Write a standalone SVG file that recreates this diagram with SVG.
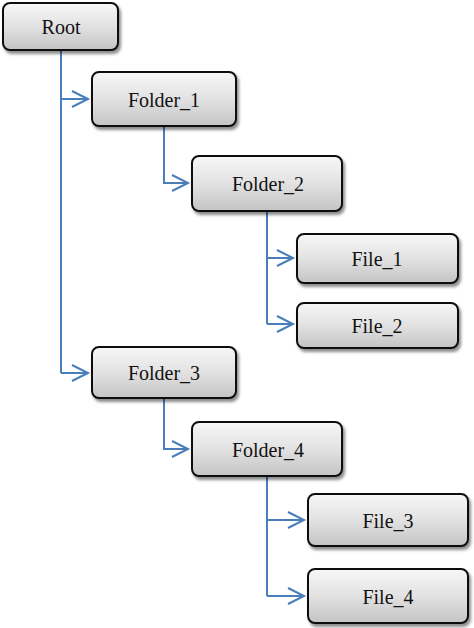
<svg xmlns="http://www.w3.org/2000/svg" width="474" height="628" viewBox="0 0 474 628">
<defs>
<linearGradient id="g" x1="0" y1="0" x2="0" y2="1">
<stop offset="0" stop-color="#f7f7f7"/>
<stop offset="0.5" stop-color="#e2e2e2"/>
<stop offset="1" stop-color="#c4c4c4"/>
</linearGradient>
<filter id="sh" x="-10%" y="-10%" width="130%" height="140%">
<feDropShadow dx="2" dy="3" stdDeviation="1.5" flood-color="#000" flood-opacity="0.45"/>
</filter>
<marker id="arr" markerWidth="20" markerHeight="20" refX="17" refY="9" orient="auto" markerUnits="userSpaceOnUse">
<path d="M1,1 L17,9 L1,17" fill="none" stroke="#4a7ebb" stroke-width="2"/>
</marker>
</defs>
<style>
.box{fill:url(#g);stroke:#111;stroke-width:2;filter:url(#sh)}
.lbl{font-family:'Liberation Serif','Times New Roman',serif;font-size:20px;fill:#111;text-anchor:middle;dominant-baseline:central}
.c{fill:none;stroke:#4a7ebb;stroke-width:2}
</style>
<rect width="474" height="628" fill="#fff"/>
<g id="connectors">
<path class="c" d="M61,50 V373"/>
<path class="c" d="M61,99 H88" marker-end="url(#arr)"/>
<path class="c" d="M61,373 H88" marker-end="url(#arr)"/>
<path class="c" d="M164,126 V183 H188" marker-end="url(#arr)"/>
<path class="c" d="M267,211 V324"/>
<path class="c" d="M267,258 H293" marker-end="url(#arr)"/>
<path class="c" d="M267,324 H293" marker-end="url(#arr)"/>
<path class="c" d="M164,398 V449 H188" marker-end="url(#arr)"/>
<path class="c" d="M267,476 V596"/>
<path class="c" d="M267,520 H304" marker-end="url(#arr)"/>
<path class="c" d="M267,596 H304" marker-end="url(#arr)"/>
</g>
<g id="root"><rect class="box" x="3" y="3" width="115" height="47" rx="7"/><text class="lbl" x="61" y="27">Root</text></g>
<g id="folder_1"><rect class="box" x="92" y="72" width="144" height="54" rx="7"/><text class="lbl" x="164" y="100">Folder_1</text></g>
<g id="folder_2"><rect class="box" x="192" y="156" width="150" height="55" rx="7"/><text class="lbl" x="268" y="184">Folder_2</text></g>
<g id="file_1"><rect class="box" x="297" y="234" width="161" height="49" rx="7"/><text class="lbl" x="377" y="259">File_1</text></g>
<g id="file_2"><rect class="box" x="297" y="303" width="161" height="45" rx="7"/><text class="lbl" x="377" y="326">File_2</text></g>
<g id="folder_3"><rect class="box" x="92" y="347" width="144" height="51" rx="7"/><text class="lbl" x="164" y="373">Folder_3</text></g>
<g id="folder_4"><rect class="box" x="192" y="422" width="150" height="54" rx="7"/><text class="lbl" x="268" y="450">Folder_4</text></g>
<g id="file_3"><rect class="box" x="308" y="494" width="160" height="52" rx="7"/><text class="lbl" x="388" y="521">File_3</text></g>
<g id="file_4"><rect class="box" x="308" y="569" width="160" height="54" rx="7"/><text class="lbl" x="388" y="597">File_4</text></g>
</svg>
